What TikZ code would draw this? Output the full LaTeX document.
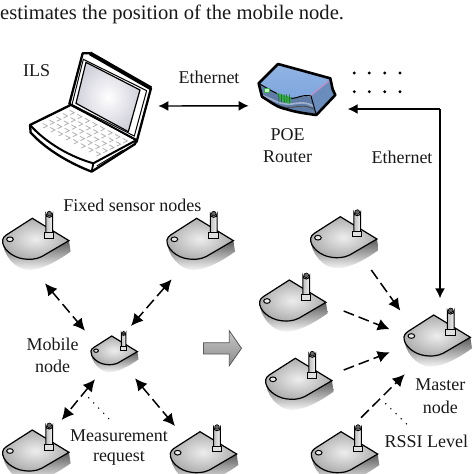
\documentclass[tikz,border=0pt]{standalone}
\usepackage{fontspec}
\setmainfont{Liberation Serif}
\usetikzlibrary{arrows.meta}
\definecolor{linkblue}{RGB}{126,166,222}
\definecolor{linkdark}{RGB}{70,100,160}
\definecolor{portgreen}{RGB}{60,170,80}
\tikzset{
  lbl/.style={font=\fontsize{18}{20}\selectfont, inner sep=0pt, text=black!90},
  wired/.style={line width=1.4pt, -{Latex[length=10pt,width=10pt]}},
  wiredboth/.style={line width=1.4pt, {Latex[length=10pt,width=10pt]}-{Latex[length=10pt,width=10pt]}},
  radio/.style={line width=1.5pt, dash pattern=on 11pt off 5pt, -{Latex[length=12pt,width=12pt]}},
  radioboth/.style={line width=1.5pt, dash pattern=on 11pt off 5pt, {Latex[length=12pt,width=12pt]}-{Latex[length=12pt,width=12pt]}},
  leader/.style={line width=1.1pt, dash pattern=on 1.2pt off 6pt},
  zoomed/.style={x=0.3333pt, y=-0.3333pt},
}
% Sensor node drawn around the apex of its top face: #1,#2 position, #3 scale
\newcommand{\sensornode}[3]{%
  \begin{scope}[shift={(#1,#2)}, x=#3*0.3333pt, y=-#3*0.3333pt]
    \shade[top color=black!65, bottom color=black!4, draw=none]
      (-89,65) .. controls (-90,110) and (-50,155) .. (-10,155)
      .. controls (30,155) and (80,125) .. (115,100) -- (110,67) -- cycle;
    \shade[draw=black, line width=1.2pt, inner color=black!7, outer color=black!32]
      (0,0) -- (110,67) -- (28,115)
      .. controls (10,124) and (-10,124) .. (-25,122)
      .. controls (-60,118) and (-92,90) .. (-89,65)
      .. controls (-88,58) and (-84,55) .. (-78,50) -- cycle;
    \draw[line width=1pt, fill=black!8] (-67,63) ellipse (10 and 7);
    \shade[draw=black, line width=1pt, left color=black!25, right color=black!5]
      (41,45) -- (41,-13) arc[start angle=180, end angle=0, radius=10] -- (61,45) -- cycle;
    \fill[black!60, draw=black, line width=0.6pt] (51,-14) circle (7);
    \draw[line width=1pt, fill=black!12] (36,43) rectangle (65,60);
  \end{scope}%
}
\begin{document}
\begin{tikzpicture}[x=1pt, y=-1pt]
  \useasboundingbox (0,0) rectangle (474,474);
  \clip (0,0) rectangle (474,474);

  % Running text above the figure
  \node[lbl, font=\fontsize{20.6}{22}\selectfont, anchor=base west] (caption) at (0,19) {estimates the position of the mobile node.};

  % Notebook computer
  \begin{scope}[zoomed]
    \fill[white] (208,312) -- (250,158) -- (453,265) -- (410,425) -- cycle;
    \draw[line width=2.3pt, line join=round]
      (208,312) -- (248,160) -- (270,160) -- (453,265) -- (410,425) -- cycle;
    \draw[line width=4pt] (270,160) -- (453,265);
    \draw[line width=1pt] (250,178) -- (440,272) -- (403,408) -- (216,314) -- cycle;
    \shade[inner color=white, outer color=blue!22!black!18, draw=black, line width=1.2pt]
      (258,187) -- (420,270) -- (385,395) -- (228,310) -- cycle;
    % Base with front edge
    \fill[white] (90,375) -- (212,315) -- (410,425) -- (275,515) -- (92,400) -- cycle;
    \draw[line width=2.3pt, line join=round]
      (212,315) -- (90,375) -- (92,398)
      .. controls (140,450) and (210,490) .. (275,515) -- (405,432) -- (410,420);
    \draw[line width=2pt] (90,375) .. controls (140,430) and (210,470) .. (280,490) -- (410,420);
    \draw[line width=1.8pt] (212,315) -- (410,420);
    \draw[line width=1.8pt] (280,490) -- (275,515);
    \draw[line width=0.9pt] (290,498) -- (370,450);
  \end{scope}
  % Keyboard, laid out on the plane of the base
  \begin{scope}[shift={(70.7,105)}, x={(66pt,-35pt)}, y={(-40.7pt,-20pt)}]
    \foreach \col in {0,...,7}{
      \foreach \row in {0,...,4}{
        \draw[black!30, line width=0.8pt]
          ({0.07+\col*0.115},{0.14+\row*0.165}) -- ++(0.07,0) -- ++(0,0.10);
      }
    }
  \end{scope}

  % Router
  \begin{scope}[shift={(237,40)}, zoomed]
    \fill[linkblue!75!black] (65,130) -- (75,170)
      .. controls (100,185) and (120,205) .. (150,210)
      .. controls (180,215) and (210,220) .. (238,225)
      -- (222,170) .. controls (195,165) and (180,175) .. (165,175)
      .. controls (130,170) and (100,150) .. (65,130) -- cycle;
    \shade[top color=linkblue!85, bottom color=linkblue, draw=none]
      (65,130) -- (123,72) -- (280,115) -- (222,168)
      .. controls (195,162) and (180,176) .. (165,175)
      .. controls (130,170) and (100,150) .. (65,130) -- cycle;
    \fill[linkblue!85!black] (222,168) -- (280,115) -- (295,165) -- (238,225) -- cycle;
    \draw[violet!45, line width=1.2pt] (222,166) -- (277,122);
    \draw[line width=1pt] (222,168) -- (238,225);
    \draw[line width=1pt] (65,130) .. controls (100,150) and (130,170) .. (165,175)
      .. controls (180,176) and (195,162) .. (222,168);
    \draw[linkdark!50!white, line width=1.6pt] (72,165) .. controls (110,178) and (125,195) .. (165,192)
      .. controls (190,188) and (205,185) .. (228,198);
    \draw[black!70, line width=0.8pt] (74,172) .. controls (110,186) and (125,205) .. (165,202)
      .. controls (190,198) and (205,195) .. (232,208);
    \fill[portgreen] (118,158) -- (162,172) -- (160,192) -- (135,185) -- cycle;
    \foreach \gx in {125,133,141,149,157}{
      \draw[green!40!black, line width=0.5pt] (\gx,163) -- (\gx+1,187);
    }
    \fill[green!25, draw=portgreen, line width=0.6pt] (82,144) rectangle (97,158);
    \draw[line width=2.6pt, line join=round]
      (65,130) -- (123,72) -- (280,115) -- (287,148) -- (295,165) -- (238,225)
      .. controls (200,220) and (170,215) .. (150,208)
      .. controls (120,203) and (100,185) .. (75,170) -- cycle;
  \end{scope}

  % Ellipsis dots beside the router
  \foreach \dx in {354.3,369.3,384.7,400}{
    \foreach \dy in {73,91.7}{
      \fill (\dx,\dy) circle (1.6);
    }
  }

  % Sensor nodes, localisation side
  \sensornode{32.3}{218.3}{1}
  \sensornode{196.7}{218.3}{1}
  \sensornode{111.7}{336}{0.7}
  \sensornode{32.3}{430}{1}
  \sensornode{200}{431.7}{1}

  % Sensor nodes, reporting side
  \sensornode{340.3}{216.7}{1}
  \sensornode{289.3}{280}{1}
  \sensornode{295.3}{358.3}{1}
  \sensornode{341}{431.7}{1}
  \sensornode{433.7}{315}{1}

  % Transition arrow between the two stages
  \shade[top color=black!22, bottom color=black!45, draw=black!65, line width=0.8pt]
    (203.5,342.7) -- (229.3,342.7) -- (229.3,330.7) -- (241.5,348.3)
    -- (229.3,365.7) -- (229.3,354) -- (203.5,354) -- cycle;

  % Connector end points
  \coordinate (lapport) at (158.3,106);
  \coordinate (rtleft) at (248.7,105.8);
  \coordinate (rtright) at (347.7,109);
  \coordinate (bend) at (440,109);
  \coordinate (masterin) at (440,298.3);
  \coordinate (fa1) at (45,283.3);   \coordinate (fb1) at (85,330.7);
  \coordinate (fa2) at (171.7,279.3); \coordinate (fb2) at (131,326);
  \coordinate (fa3) at (95,379.3);   \coordinate (fb3) at (61.7,420);
  \coordinate (fa4) at (135,378.3);  \coordinate (fb4) at (175,426);
  \coordinate (ra1) at (371.3,270);  \coordinate (rb1) at (400.3,310.7);
  \coordinate (ra2) at (343.7,311);  \coordinate (rb2) at (389.7,329.3);
  \coordinate (ra3) at (343.7,370);  \coordinate (rb3) at (389.7,352.3);
  \coordinate (ra4) at (361,417.7);  \coordinate (rb4) at (404.7,374.3);
  \coordinate (la1) at (88.3,397.3); \coordinate (lb1) at (111.7,421.7);
  \coordinate (la2) at (385.3,403.3); \coordinate (lb2) at (408.7,426);

  % Wired links
  \draw[wiredboth] (lapport) -- (rtleft);
  \draw[wired] (bend) -- (rtright);
  \draw[wired] (bend) -- (masterin);

  % Radio links
  \foreach \n in {1,2,3,4}{
    \draw[radioboth] (fa\n) -- (fb\n);
    \draw[radio] (ra\n) -- (rb\n);
  }

  % Leaders from labels to links
  \draw[leader] (la1) -- (lb1);
  \draw[leader] (la2) -- (lb2);

  % Labels
  \node[lbl] (ils) at (36.7,71) {ILS};
  \node[lbl] (eth1) at (209,77) {Ethernet};
  \node[lbl] (poe) at (287.7,134.3) {POE};
  \node[lbl] (router) at (287.7,157) {Router};
  \node[lbl] (eth2) at (402,157.3) {Ethernet};
  \node[lbl] (fixed) at (132.3,205) {Fixed sensor nodes};
  \node[lbl] (mob) at (52.7,344) {Mobile};
  \node[lbl] (mobn) at (52.7,366.7) {node};
  \node[lbl] (meas) at (119,435.7) {Measurement};
  \node[lbl] (req) at (119,458.3) {request};
  \node[lbl] (mast) at (440.3,385) {Master};
  \node[lbl] (mastn) at (440.3,407.3) {node};
  \node[lbl] (rssi) at (426.3,441.7) {RSSI Level};
\end{tikzpicture}
\end{document}
